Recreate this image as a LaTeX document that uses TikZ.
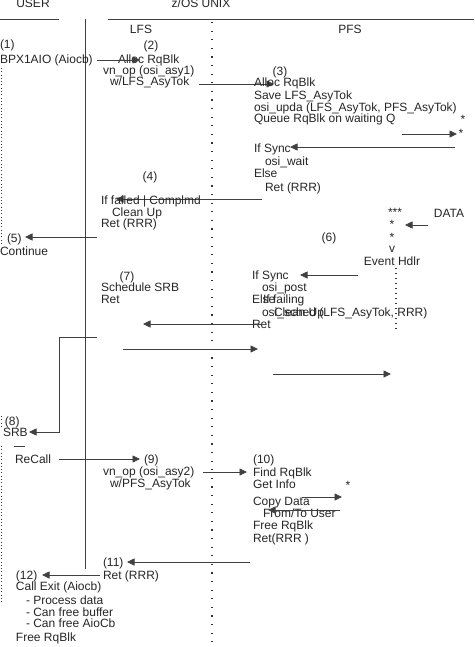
\documentclass[tikz,border=0pt]{standalone}
\usepackage{fontspec}
\setmainfont{Liberation Sans}
\usetikzlibrary{arrows.meta}
\begin{document}
\begin{tikzpicture}[x=1pt,y=-1pt,
  txt/.style={inner sep=0pt, outer sep=0pt, anchor=base west, font=\fontsize{12}{12}\selectfont, text=black!85},
  ctxt/.style={txt, anchor=base},
  arr/.style={draw=black!75, line width=0.8pt, -{Triangle[length=7.5pt,width=7pt]}},
  ln/.style={draw=black!75, line width=0.8pt},
  life/.style={draw=black!80, line width=1.4pt, dash pattern=on 1.2pt off 7.4pt},
  ldots/.style={draw=black!80, line width=1.2pt, dash pattern=on 1pt off 2.3pt},
  edots/.style={draw=black!80, line width=1.3pt, dash pattern=on 1.2pt off 3.8pt},
]
\useasboundingbox (0,0) rectangle (474,647);
\fill[white] (0,0) rectangle (474,647);

% headers
\node[ctxt] (user) at (33,8) {USER};
\node[ctxt] (zos) at (201,8) {z/OS UNIX};
\node[ctxt] (lfs) at (141,34) {LFS};
\node[ctxt] (pfs) at (350,34) {PFS};

% frame lines
\coordinate (tl0) at (0,19); \coordinate (tl1) at (59,19);
\coordinate (tr0) at (108,19); \coordinate (tr1) at (474,19);
\coordinate (v0) at (85,19); \coordinate (v1) at (85,569);
\draw[ln] (tl0) -- (tl1);
\draw[ln] (tr0) -- (tr1);
\draw[ln] (v0) -- (v1);

% lifelines
\coordinate (d0) at (212,22); \coordinate (d1) at (212,647);
\draw[life] (d0) -- (d1);
\coordinate (ld0) at (1.5,68); \coordinate (ld1) at (1.5,245);
\coordinate (ld2) at (1.5,416); \coordinate (ld3) at (1.5,427);
\coordinate (ld4) at (1.5,446); \coordinate (ld5) at (1.5,604);
\draw[ldots] (ld0) -- (ld1);
\draw[ldots] (ld2) -- (ld3);
\draw[ldots] (ld4) -- (ld5);
\coordinate (ed0) at (396,268); \coordinate (ed1) at (396,331);
\draw[edots] (ed0) -- (ed1);

% (1)
\node[txt] (n1) at (0,49) {(1)};
\node[txt] (bpx) at (0,64) {BPX1AIO (Aiocb)};
% (2)
\node[ctxt] (n2) at (151,50) {(2)};
\node[txt] (alloc1) at (118,64) {Alloc RqBlk};
\node[txt] (vnop1) at (103,75) {vn\_op (osi\_asy1)};
\node[txt] (wlfs) at (110,86) {w/LFS\_AsyTok};
\coordinate (a1s) at (97,60); \coordinate (a1e) at (140,60);
\draw[arr] (a1s) -- (a1e);
\coordinate (a2s) at (199,84); \coordinate (a2e) at (274,84);
\draw[arr] (a2s) -- (a2e);
% (3)
\node[ctxt] (n3) at (280,76) {(3)};
\node[txt] (alloc2) at (254,87) {Alloc RqBlk};
\node[txt] (save) at (254,100) {Save LFS\_AsyTok};
\node[txt] (upda) at (254,112) {osi\_upda (LFS\_AsyTok, PFS\_AsyTok)};
\node[txt] (queue) at (254,123) {Queue RqBlk on waiting Q};
\node[ctxt] (st1) at (463,124) {*};
\node[ctxt] (st2) at (461,138) {*};
\coordinate (a3s) at (402,134); \coordinate (a3e) at (457,134);
\draw[arr] (a3s) -- (a3e);
\coordinate (a4s) at (455,147); \coordinate (a4e) at (290,147);
\draw[arr] (a4s) -- (a4e);
\node[txt] (ifs1) at (254,153) {If Sync};
\node[txt] (wait) at (265,165) {osi\_wait};
\node[txt] (else1) at (254,178) {Else};
\node[txt] (ret1) at (265,191) {Ret (RRR)};
\coordinate (a5s) at (262,199); \coordinate (a5e) at (116,199);
\draw[arr] (a5s) -- (a5e);
% (4)
\node[ctxt] (n4) at (150,180) {(4)};
\node[txt] (iff) at (101,204) {If failed | Complmd};
\node[txt] (clean1) at (112,216) {Clean Up};
\node[txt] (ret2) at (101,227) {Ret (RRR)};
% (5)
\node[txt] (n5) at (7,242) {(5)};
\coordinate (a6s) at (97,237); \coordinate (a6e) at (25,237);
\draw[arr] (a6s) -- (a6e);
\node[txt] (cont) at (0,255) {Continue};
% (7)
\node[ctxt] (n7) at (127,280) {(7)};
\node[txt] (sched) at (101,291) {Schedule SRB};
\node[txt] (ret3) at (101,303) {Ret};
% (6)
\node[ctxt] (s3) at (395,216) {***};
\node[ctxt] (s4) at (392,228) {*};
\node[ctxt] (s5) at (392,241) {*};
\node[ctxt] (vv) at (392,252) {v};
\node[ctxt] (evh) at (392,265) {Event Hdlr};
\node[ctxt] (data) at (449,217) {DATA};
\coordinate (a7s) at (428,225); \coordinate (a7e) at (405,225);
\draw[arr] (a7s) -- (a7e);
\node[ctxt] (n6) at (329,241) {(6)};
\node[txt] (ifs2) at (252,279) {If Sync};
\coordinate (a8s) at (358,275); \coordinate (a8e) at (300,275);
\draw[arr] (a8s) -- (a8e);
\node[txt] (post) at (262,291) {osi\_post};
\node[txt] (else2) at (252,303) {Else};
\node[txt] (iffail) at (263,303) {If failing};
\node[txt] (osched) at (262,316) {osi\_sched (LFS\_AsyTok, RRR)};
\node[txt] (clean2) at (274,316) {Clean Up};
\node[txt] (ret4) at (252,328) {Ret};
\coordinate (a9s) at (262,324); \coordinate (a9e) at (143,324);
\draw[arr] (a9s) -- (a9e);
% SRB path
\coordinate (b1) at (97,337); \coordinate (b2) at (59,337);
\coordinate (b3) at (59,432); \coordinate (b4) at (29,432);
\draw[arr] (b1) -- (b2) -- (b3) -- (b4);
\coordinate (a10s) at (123,349); \coordinate (a10e) at (258,349);
\draw[arr] (a10s) -- (a10e);
\coordinate (a11s) at (273,374); \coordinate (a11e) at (391,374);
\draw[arr] (a11s) -- (a11e);
% (8)
\node[txt] (n8) at (5,425) {(8)};
\node[txt] (srb) at (3,436) {SRB};
\coordinate (sl0) at (14,446); \coordinate (sl1) at (25,446);
\draw[ln] (sl0) -- (sl1);
\node[txt] (recall) at (15,463) {ReCall};
\coordinate (a12s) at (59,459); \coordinate (a12e) at (140,459);
\draw[arr] (a12s) -- (a12e);
% (9)
\node[txt] (n9) at (144,463) {(9)};
\node[txt] (vnop2) at (103,475) {vn\_op (osi\_asy2)};
\node[txt] (wpfs) at (110,487) {w/PFS\_AsyTok};
\coordinate (a13s) at (203,472); \coordinate (a13e) at (247,472);
\draw[arr] (a13s) -- (a13e);
% (10)
\node[txt] (n10) at (253,463) {(10)};
\node[txt] (find) at (253,476) {Find RqBlk};
\node[txt] (getinfo) at (253,488) {Get Info};
\node[ctxt] (st6) at (348,489) {*};
\node[txt] (copy) at (253,505) {Copy Data};
\coordinate (a14s) at (302,497); \coordinate (a14e) at (342,497);
\draw[arr] (a14s) -- (a14e);
\node[txt] (fromto) at (263,517) {From/To User};
\coordinate (a15s) at (340,510); \coordinate (a15e) at (268,510);
\draw[arr] (a15s) -- (a15e);
\node[txt] (free1) at (253,529) {Free RqBlk};
\node[txt] (ret5) at (253,542) {Ret(RRR )};
\coordinate (a16s) at (250,562); \coordinate (a16e) at (127,562);
\draw[arr] (a16s) -- (a16e);
% (11)
\node[txt] (n11) at (103,566) {(11)};
\node[txt] (ret6) at (103,579) {Ret (RRR)};
\coordinate (a17s) at (100,575); \coordinate (a17e) at (42,575);
\draw[arr] (a17s) -- (a17e);
% (12)
\node[txt] (n12) at (16,579) {(12)};
\node[txt] (callx) at (16,590) {Call Exit (Aiocb)};
\node[txt] (proc) at (26,604) {- Process data};
\node[txt] (cfb) at (26,616) {- Can free buffer};
\node[txt] (cfa) at (26,627) {- Can free AioCb};
\node[txt] (free2) at (16,641) {Free RqBlk};
\end{tikzpicture}
\end{document}
